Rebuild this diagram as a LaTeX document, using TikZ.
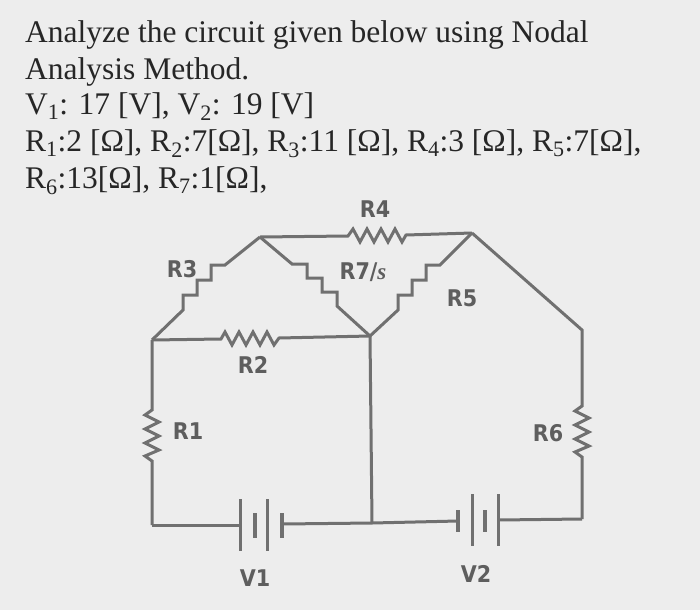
\documentclass[tikz,border=0pt]{standalone}
\usepackage{fontspec}
\setmainfont{Liberation Serif}
\newfontfamily\lab{DejaVu Sans Condensed}
\begin{document}
\begin{tikzpicture}[x=1pt,y=-1pt,
  wire/.style={draw=wirec,line width=3pt,line join=miter},
  lbl/.style={text=labc,font=\lab\bfseries\fontsize{23}{23}\selectfont,inner sep=0pt},
  ttl/.style={anchor=base west,inner sep=0pt,text=black!85,font=\fontsize{31.5}{31.5}\selectfont}]
\definecolor{wirec}{HTML}{707070}
\definecolor{labc}{HTML}{5E5E5E}
\fill[gray!14] (0,0) rectangle (700,610);
\useasboundingbox (0,0) rectangle (700,610);
% title
\node[ttl] (t1) at (25,42) {Analyze the circuit given below using Nodal};
\node[ttl] (t2) at (25,79) {Analysis Method.};
\node[ttl] (t3) at (25,114) {V\textsubscript{1}: 17 [V], V\textsubscript{2}: 19 [V]};
\node[ttl] (t4) at (25,151) {R\textsubscript{1}:2 [Ω], R\textsubscript{2}:7[Ω], R\textsubscript{3}:11 [Ω], R\textsubscript{4}:3 [Ω], R\textsubscript{5}:7[Ω],};
\node[ttl] (t5) at (25,188) {R\textsubscript{6}:13[Ω], R\textsubscript{7}:1[Ω],};
% nodes
\coordinate (A) at (260,237);
\coordinate (B) at (472,233);
\coordinate (C) at (152,340);
\coordinate (D) at (370,336);
\coordinate (E) at (582,330);
\coordinate (BL) at (152,525);
\coordinate (BM) at (372,523);
\coordinate (BR) at (582,519);
% top: R4
\draw[wire] (A) -- (348,236) -- (353,229) -- (360,242) -- (367,229) -- (374,242) -- (381,229) -- (388,242) -- (395,229) -- (402,242) -- (406,235) -- (B);
% R3 staircase
\draw[wire] (C) -- (183,310) \foreach \i in {1,...,3}{ -- ++(0,-15) -- ++(14,0)} -- (A);
% R7 staircase
\draw[wire] (A) -- (292,264) \foreach \i in {1,...,3}{ -- ++(15,0) -- ++(0,14)} -- (D);
% R5 staircase
\draw[wire] (D) -- (398,310) \foreach \i in {1,...,3}{ -- ++(0,-15) -- ++(14,0)} -- (B);
% R2
\draw[wire] (C) -- (221,339) -- (225,332) -- (232,345) -- (239,332) -- (246,345) -- (253,332) -- (260,345) -- (267,332) -- (274,345) -- (279,338) -- (D);
% middle vertical
\draw[wire] (D) -- (BM);
% right side
\draw[wire] (B) -- (E) -- (582,406) -- (575,411) -- (589,418) -- (575,425) -- (589,432) -- (575,439) -- (589,446) -- (575,452) -- (582,457) -- (BR);
% left side R1
\draw[wire] (C) -- (152,410) -- (145,415) -- (159,422) -- (145,429) -- (159,436) -- (145,443) -- (159,450) -- (145,456) -- (152,461) -- (BL);
% bottom left with V1
\draw[wire] (BL) -- (240,525);
\draw[wire] (240,499) -- (240,551);
\draw[wire,line width=4pt] (255,513) -- (255,538);
\draw[wire] (267,499) -- (267,551);
\draw[wire,line width=4pt] (282,513) -- (282,538);
\draw[wire] (282,524) -- (BM);
% bottom right with V2
\draw[wire] (BM) -- (458,521);
\draw[wire,line width=4pt] (458,510) -- (458,532);
\draw[wire] (472,494) -- (472,546);
\draw[wire,line width=4pt] (485,510) -- (485,532);
\draw[wire] (498,494) -- (498,546);
\draw[wire] (498,520) -- (BR);
% labels
\node[lbl] (lR4) at (375,209) {R4};
\node[lbl] (lR3) at (182,269) {R3};
\node[lbl] (lR7) at (363,272) {R7/\textit{\fontspec{Liberation Serif}\selectfont s}};
\node[lbl] (lR5) at (462,298) {R5};
\node[lbl] (lR2) at (253,365) {R2};
\node[lbl] (lR1) at (188,431) {R1};
\node[lbl] (lR6) at (548,433) {R6};
\node[lbl] (lV1) at (255,578) {V1};
\node[lbl] (lV2) at (476,574) {V2};
\end{tikzpicture}
\end{document}
